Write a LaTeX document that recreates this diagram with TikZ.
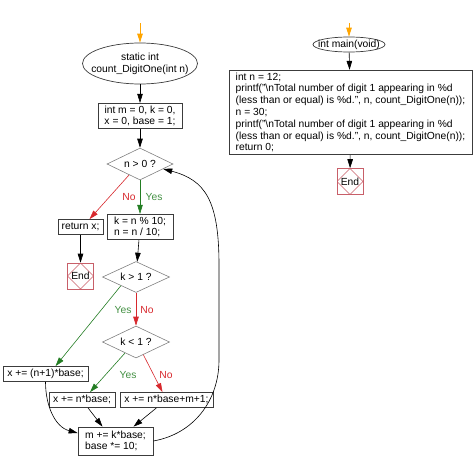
\documentclass[tikz,border=0pt]{standalone}
\usepackage{fontspec}
\setmainfont{Liberation Sans}
\usepackage{tikz}
\usetikzlibrary{arrows.meta,shapes.geometric}
\definecolor{startorange}{RGB}{255,165,0}
\definecolor{yesgreen}{RGB}{35,125,35}
\definecolor{nored}{RGB}{215,40,45}
\definecolor{endred}{RGB}{200,95,105}
\definecolor{boxgray}{RGB}{60,60,60}
\begin{document}
\begin{tikzpicture}[x=1pt, y=1pt, font=\fontsize{10.3}{11.8}\selectfont, box/.style={draw=boxgray, line width=0.7pt, inner xsep=3pt, inner ysep=2.5pt, align=left}, sbox/.style={box, text height=7.5pt, text depth=2.2pt, minimum height=15pt}, term/.style={ellipse, draw=boxgray, line width=0.7pt, inner sep=0pt, align=center}, dec/.style={diamond, draw=gray, line width=0.6pt, aspect=2, inner sep=0pt}, endbox/.style={draw=endred, line width=0.6pt, minimum size=26pt, inner sep=0pt, path picture={\draw[endred, line width=0.6pt] (path picture bounding box.north)--(path picture bounding box.east)--(path picture bounding box.south)--(path picture bounding box.west)--cycle;}}, arrow/.style={-{Triangle[length=9pt,width=5.5pt]}, line width=0.6pt, black}, start/.style={arrow, startorange, line width=1pt}, yes/.style={arrow, yesgreen}, no/.style={arrow, nored}, yeslbl/.style={text=yesgreen!85!white}, nolbl/.style={text=nored}]
\useasboundingbox (0,0) rectangle (474,-466);
% count_DigitOne
\coordinate (s1) at (140,-23);
\node[term, minimum width=115pt, minimum height=41pt] (fun) at (140,-63.5) {static int\\\makebox[60pt]{count\_DigitOne(int n)}};
\node[box, align=center, minimum width=84pt] (init) at (140,-116) {int m = 0, k = 0,\\x = 0, base = 1;};
\node[dec, minimum width=66pt, minimum height=32pt] (nz) at (140,-164) {n > 0 ?};
\node[sbox, minimum width=45pt] (ret) at (80.5,-227) {return x;};
\node[box, minimum width=66pt] (kbox) at (140,-227) {k = n \% 10;\\n = n / 10;};
\node[endbox] (end1) at (80.5,-276) {End};
\node[dec, minimum width=67pt, minimum height=31pt] (kgt) at (136,-277) {k > 1 ?};
\node[dec, minimum width=67pt, minimum height=32pt] (klt) at (136,-342) {k < 1 ?};
\node[sbox, minimum width=85pt] (b1) at (45.5,-374) {x += (n+1)*base;};
\node[sbox, minimum width=66pt] (b2) at (82,-400) {x += n*base;};
\node[sbox, minimum width=93pt] (b3) at (166.5,-400) {x += n*base+m+1;};
\node[box, minimum width=75pt, minimum height=28pt] (mbox) at (115.5,-441) {m += k*base;\\base *= 10;};
\node[nolbl] (n1) at (129,-197) {No}; \node[yeslbl] (y1) at (154,-197) {Yes};
\node[yeslbl] (y2) at (123,-310) {Yes}; \node[nolbl] (n2) at (147,-310) {No};
\node[yeslbl] (y3) at (128,-375) {Yes}; \node[nolbl] (n3) at (166,-375) {No};
\coordinate (lp1) at (219,-360); \coordinate (lp2) at (219,-265);
% main
\coordinate (s2) at (349,-23);
\node[term, minimum width=72pt, minimum height=15pt] (mainf) at (349,-44.5) {\makebox[30pt]{int main(void)}};
\node[box, minimum width=243pt] (mainbox) at (350.5,-112.5) {int n = 12;\\printf("\textbackslash nTotal number of digit 1 appearing in \%d\\(less than or equal) is \%d.", n, count\_DigitOne(n));\\n = 30;\\printf("\textbackslash nTotal number of digit 1 appearing in \%d\\(less than or equal) is \%d.", n, count\_DigitOne(n));\\return 0;};
\node[endbox] (end2) at (350,-181.5) {End};
\draw[start](s1)--(fun); \draw[start](s2)--(mainf);
\draw[arrow](fun)--(init); \draw[arrow](init)--(nz); \draw[arrow](ret)--(end1); \draw[arrow](kbox)--(kgt); \draw[arrow](mainf)--(mainbox); \draw[arrow](mainbox)--(end2);
\draw[no](nz.-135)--([xshift=9pt]ret.north); \draw[yes](nz)--(kbox);
\draw[yes](kgt.-150)--([xshift=10pt]b1.north); \draw[no](kgt)--(klt);
\draw[yes](klt.-135)--([xshift=8pt]b2.north); \draw[no](klt.-60)--([xshift=-4pt]b3.north);
\draw[arrow](b1.south) to[out=-90,in=165] ([yshift=8pt]mbox.west); \draw[arrow]([xshift=6pt]b2.south)--([xshift=-13pt]mbox.north); \draw[arrow]([xshift=-10pt]b3.south)--([xshift=18pt]mbox.north);
\draw[arrow](mbox.east) to[out=10,in=-90] (lp1) -- (lp2) .. controls (219,-200) and (205,-180) .. (nz.-12);
\end{tikzpicture}
\end{document}
